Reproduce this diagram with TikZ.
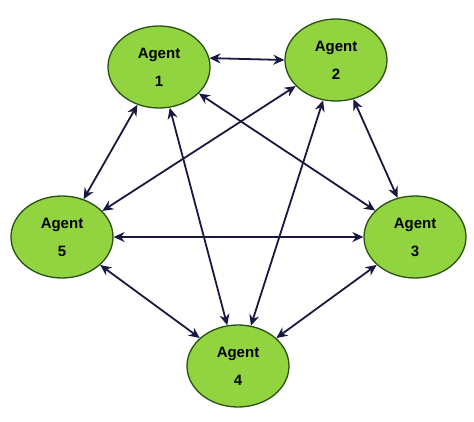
\documentclass[tikz,border=0pt]{standalone}
\usepackage{fontspec}
\setmainfont{Liberation Sans}
\usepackage{tikz}
\usetikzlibrary{
  arrows.meta,
  shapes.geometric
}
\definecolor{agentgreen}{RGB}{146,212,64}
\definecolor{agentline}{RGB}{40,80,20}
\definecolor{linknavy}{RGB}{24,24,64}
\tikzset{
  agentbox/.style={
    ellipse,
    draw=agentline,
    fill=agentgreen,
    line width=1.3pt,
    minimum width=102pt,
    minimum height=82pt,
    inner sep=0pt,
    align=center,
    font=\fontsize{15}{28}\selectfont\bfseries,
  },
  arr/.style={
    {Stealth[length=11pt,width=10pt]}-{Stealth[length=11pt,width=10pt]},
    line width=1.8pt,
    draw=linknavy,
  },
}

\begin{document}
\begin{tikzpicture}[x=1pt, y=-1pt]
  \useasboundingbox (0,0) rectangle (474,421);

  % --- Agents ---
  \node[agentbox] (a1) at (159,67)  {Agent\\1};
  \node[agentbox] (a2) at (336,60)  {Agent\\2};
  \node[agentbox] (a3) at (415,237) {Agent\\3};
  \node[agentbox] (a4) at (238,366) {Agent\\4};
  \node[agentbox] (a5) at (62,237)  {Agent\\5};

  % --- Links ---
  \draw[arr] (a1.10) -- (a2.west);
  \draw[arr] (a1) -- (a5);
  \draw[arr] (a1) -- (a3);
  \draw[arr] (a1) -- (a4);
  \draw[arr] (a2) -- (a5);
  \draw[arr] (a2) -- (a4);
  \draw[arr] (a2) -- (a3);
  \draw[arr] (a5) -- (a3);
  \draw[arr] (a5) -- (a4);
  \draw[arr] (a3) -- (a4);
\end{tikzpicture}
\end{document}
